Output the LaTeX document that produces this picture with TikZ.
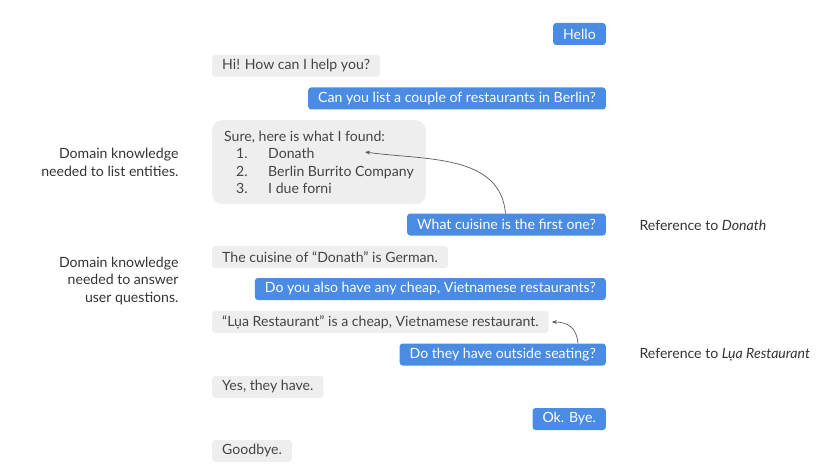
\documentclass[tikz,border=0pt]{standalone}
\usepackage{fontspec}
\setmainfont{Lato}
\usetikzlibrary{arrows.meta}

\definecolor{userblue}{HTML}{4A8BE3}
\definecolor{botgray}{HTML}{EEEEEE}
\definecolor{bottext}{HTML}{444444}
\definecolor{notetext}{HTML}{333333}

\begin{document}
\begin{tikzpicture}[x=1pt, y=-1pt, font=\fontsize{14.1}{17.5}\selectfont,
  userbox/.style={rectangle, rounded corners=3pt, fill=userblue, text=white,
    anchor=east, minimum height=22pt, inner xsep=10pt},
  botbox/.style={rectangle, rounded corners=3pt, fill=botgray, text=bottext,
    anchor=west, minimum height=22pt, inner xsep=10pt},
  note/.style={text=notetext, align=right, anchor=east},
  refnote/.style={text=notetext, anchor=west},
  refline/.style={-{Stealth[length=5pt,width=4pt]}, draw=black!65, line width=0.7pt}]

  \useasboundingbox (0,0) rectangle (827,468);

  % the dialogue
  \node[userbox] (ask1) at (606,34) {Hello};
  \node[botbox] (ans1) at (212,66) {Hi! How can I help you?};
  \node[userbox] (ask2) at (606,98.5) {Can you list a couple of restaurants in Berlin?};

  \node[botbox, rounded corners=10pt, anchor=north west, align=left,
        inner xsep=12pt, inner ysep=10.5pt] (list) at (212,120)
       {Sure, here is what I found:\\
        \hspace{12pt}\makebox[32pt][l]{1.}Donath\\
        \hspace{12pt}\makebox[32pt][l]{2.}Berlin Burrito Company\\
        \hspace{12pt}\makebox[32pt][l]{3.}I due forni};

  \node[userbox] (ask3) at (606,224.5) {What cuisine is the first one?};
  \node[botbox] (ans3) at (212,257) {The cuisine of “Donath” is German.};
  \node[userbox] (ask4) at (606,289) {Do you also have any cheap, Vietnamese restaurants?};
  \node[botbox] (ans4) at (212,322) {“Lụa Restaurant” is a cheap, Vietnamese restaurant.};
  \node[userbox] (ask5) at (606,354.5) {Do they have outside seating?};
  \node[botbox] (ans5) at (212,387) {Yes, they have.};
  \node[userbox] (ask6) at (606,419) {Ok. Bye.};
  \node[botbox] (ans6) at (212,451) {Goodbye.};

  % notes on the left
  \node[note] (know1) at (182,162.5) {Domain knowledge\\needed to list entities.};
  \node[note] (know2) at (182,281) {Domain knowledge\\needed to answer\\user questions.};

  % notes on the right
  \node[refnote] (ref1) at (636,225) {Reference to \textit{Donath}};
  \node[refnote] (ref2) at (636,355) {Reference to \textit{Lụa Restaurant}};

  % co-reference arrows
  \coordinate (donath) at (365,152);
  \draw[refline] ([xshift=-1pt]ask3.north) to[out=95, in=-8] (donath);
  \draw[refline] ([xshift=-28pt]ask5.north east) to[out=95, in=0, looseness=1.2]
       ([xshift=3pt]ans4.east);

\end{tikzpicture}
\end{document}
